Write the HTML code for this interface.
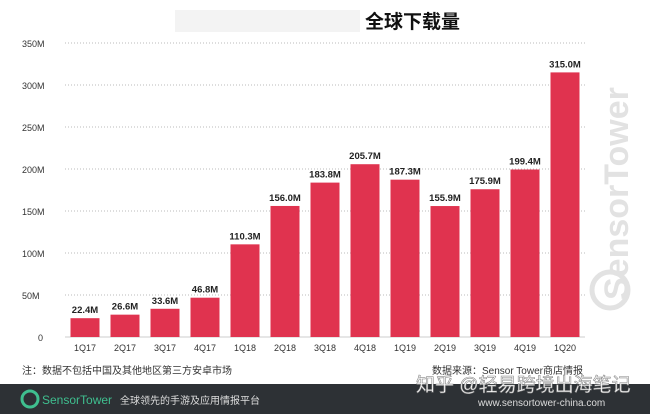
<!DOCTYPE html>
<html><head><meta charset="utf-8"><style>
body{margin:0;width:650px;height:414px;overflow:hidden;background:#fff;font-family:"Liberation Sans","Noto Sans CJK SC",sans-serif}
#wrap{position:relative;width:650px;height:414px}
.footer{position:absolute;left:0;top:384px;width:650px;height:30px;background:#2d3135}
</style></head><body><div id="wrap">
<svg id="c" width="650" height="414" style="position:absolute;left:0;top:0">
<text x="365" y="28" font-size="19" font-weight="bold" fill="#111">全球下载量</text>
<rect x="175" y="10" width="185" height="22" fill="#f3f3f3"/>
<text x="628" y="300" font-size="34" fill="#e2e2e2" font-weight="bold" transform="rotate(-90 628 300)">SensorTower</text>
<circle cx="610" cy="290" r="18" fill="none" stroke="#e2e2e2" stroke-width="5"/>
<text x="22" y="374" font-size="10" fill="#333">注：数据不包括中国及其他地区第三方安卓市场</text>
<text x="432" y="374" font-size="10" fill="#333">数据来源：Sensor Tower商店情报</text>
</svg>
<div class="footer"></div>
<svg width="650" height="414" style="position:absolute;left:0;top:0">
<circle cx="30" cy="399" r="8" fill="none" stroke="#3fbf8f" stroke-width="3"/>
<text x="42" y="404" font-size="12" fill="#3fbf8f">SensorTower</text>
<text x="120" y="404" font-size="10" fill="#ddd">全球领先的手游及应用情报平台</text>
<text x="478" y="406" font-size="10" fill="#ddd">www.sensortower-china.com</text>
<text x="416" y="391" font-size="19" fill="#fff" stroke="#888" stroke-width="0.6">知乎 @轻易跨境出海笔记</text>
</svg>
</div>
<script>
const categories=["1Q17","2Q17","3Q17","4Q17","1Q18","2Q18","3Q18","4Q18","1Q19","2Q19","3Q19","4Q19","1Q20"];
const values=[22.4,26.6,33.6,46.8,110.3,156.0,183.8,205.7,187.3,155.9,175.9,199.4,315.0];
const ticks=[0,50,100,150,200,250,300,350];
const tickLabels=["0","50M","100M","150M","200M","250M","300M","350M"];
const NS="http://www.w3.org/2000/svg";
const svg=document.getElementById('c');
const y0=337,y1=43,vmax=350,x0=65,x1=585;
const y=v=>y0-(v/vmax)*(y0-y1);
const step=(x1-x0)/categories.length;
const xc=i=>x0+step*(i+0.5);
function mk(t,a){const e=document.createElementNS(NS,t);for(const k in a)e.setAttribute(k,a[k]);svg.appendChild(e);return e;}
ticks.forEach((t,i)=>{
 if(t>0){const l=mk('line',{x1:x0,x2:x1,y1:y(t),y2:y(t),stroke:'#bbb','stroke-dasharray':'1,2'});
 
 }
 const tx=mk('text',{x:22,y:y(t)+4,'font-size':9,fill:'#333'});tx.textContent=tickLabels[i];
 if(t===0)tx.setAttribute('x',38);
 
 
});
const base=mk('line',{x1:x0,x2:x1,y1:y0,y2:y0,stroke:'#ccc'});


values.forEach((v,i)=>{
 const w=29;
 const r=mk('rect',{x:xc(i)-w/2,y:y(v),width:w,height:y0-y(v),fill:'#e0334f'});
 
 
 const t=mk('text',{x:xc(i),y:y(v)-5,'font-size':9.5,'font-weight':'bold','text-anchor':'middle',fill:'#222'});t.textContent=v.toFixed(1)+'M';
 
 
 const c=mk('text',{x:xc(i),y:351,'font-size':9,'text-anchor':'middle',fill:'#333'});c.textContent=categories[i];
 
 
});
</script>
</body></html>
